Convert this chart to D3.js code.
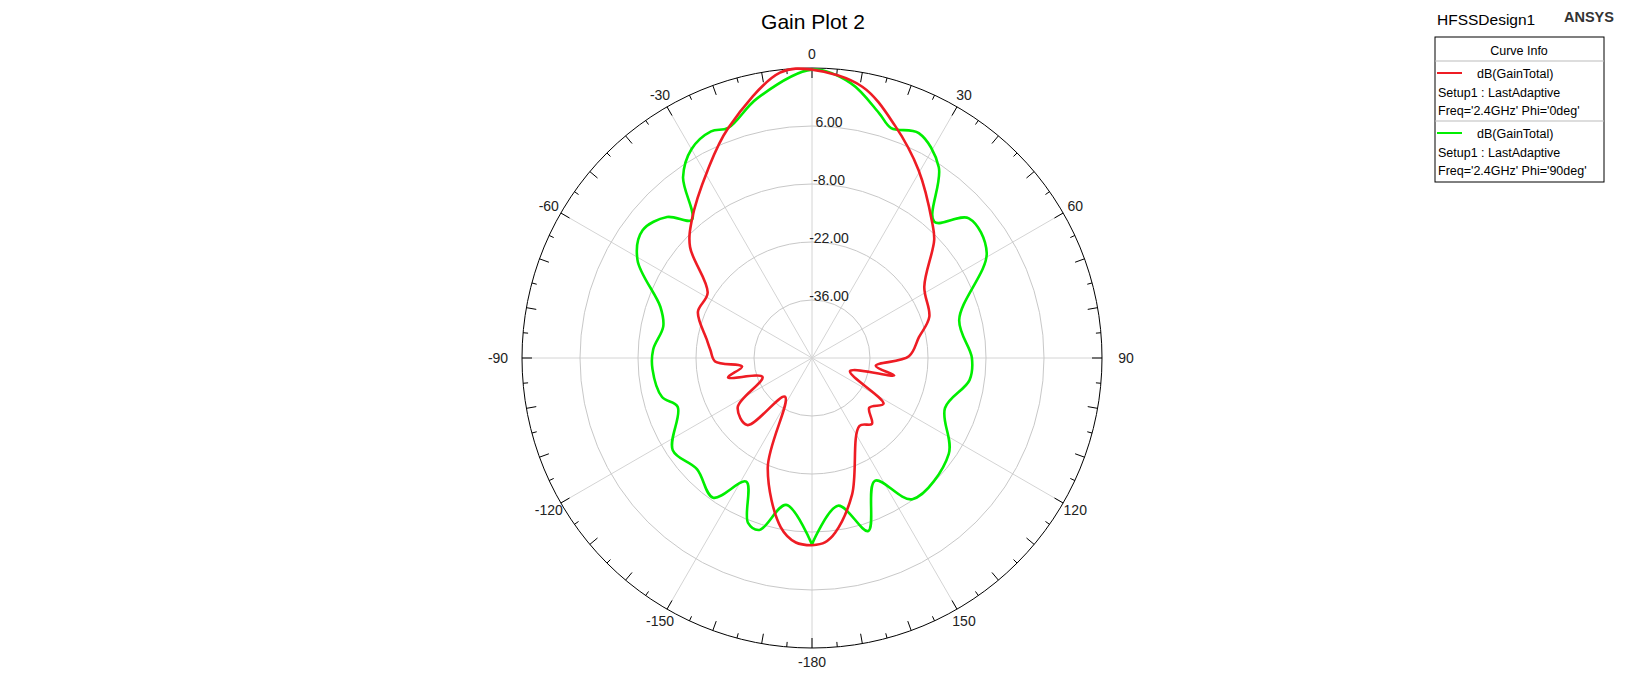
<!DOCTYPE html><html><head><meta charset="utf-8"><script src="https://cdn.jsdelivr.net/npm/d3@7"></script>
<style>body{margin:0;background:#fff}text{font-family:Arial,"Liberation Sans",sans-serif}</style></head><body><svg id="c" width="1628" height="689"></svg>
<script>
const ringValues=[-36,-22,-8,6,20];
const ringLabels=["-36.00","-22.00","-8.00","6.00"];
const angleLabels=[0,30,60,90,120,150,-180,-150,-120,-90,-60,-30];
const redTheta=[-180,-175,-169.5,-158,-145,-136,-123.5,-111,-103,-97,-92,-85.5,-80,-68,-58,-47.7,-41,-29,-20,-6.4,0,10.5,19.6,29.6,41.6,46,57.6,70.7,79,89,97,102,109,122.6,131,137.7,145,163.6,172.4,176,180];
const redDb=[-4.8,-5.3,-8.5,-21.5,-38.6,-27.5,-28.5,-37.2,-29.2,-33,-26.6,-25.4,-24.2,-20.3,-20.3,-10.2,-5.8,1.9,9.1,19.3,19.6,16.6,9.6,2.1,-6.3,-9,-17.9,-20,-23.7,-26.6,-34.5,-29.7,-40.3,-29.5,-31.7,-28.5,-30,-15.7,-7.5,-5.4,-4.8];
const greenTheta=[-180,-170,-163,-158.8,-152,-144.7,-134,-123.5,-110,-104.6,-94,-87,-78,-71.4,-60.7,-53,-45.8,-41,-35.5,-30,-24,-20,-12,0,8,15.3,19,25.4,33.6,41.9,48.3,59,75.5,90,98,110.6,125,144.6,152.9,162,170,180];
const greenDb=[-5,-14,-6.6,-7.3,-16.2,-8.7,-11.4,-9.7,-15.5,-12.6,-11.4,-11.6,-13.3,-11.4,-1.7,1.2,-1.2,-5.8,3.6,8.2,9.9,9.1,14,19.6,17,11.3,8.7,10.1,5.3,-5.8,0.7,-0.8,-13.3,-11.4,-11.6,-15.7,-9.7,-8.2,-16.7,-6.1,-13.8,-5];
const cx=812,cy=358,R=290;
const svg=d3.select("#c");
const r=d3.scaleLinear().domain([-50,20]).range([0,R]);
const g=svg.append("g").attr("transform",`translate(${cx},${cy})`);
const rad=d=>d*Math.PI/180;
d3.range(0,360,30).forEach(a=>{g.append("line").attr("x1",0).attr("y1",0).attr("x2",R*Math.sin(rad(a))).attr("y2",-R*Math.cos(rad(a))).attr("stroke","#d4d4d4").attr("stroke-width",1);});
ringValues.slice(0,4).forEach(v=>g.append("circle").attr("r",r(v)).attr("fill","none").attr("stroke","#c8c8c8"));
g.append("circle").attr("r",R).attr("fill","none").attr("stroke","#000").attr("stroke-width",1);
d3.range(0,360,5).forEach(a=>{const L=a%10===0?10:5;g.append("line").attr("x1",(R-L)*Math.sin(rad(a))).attr("y1",-(R-L)*Math.cos(rad(a))).attr("x2",R*Math.sin(rad(a))).attr("y2",-R*Math.cos(rad(a))).attr("stroke","#000");});
ringLabels.forEach((t,i)=>g.append("text").attr("x",17).attr("y",-r(ringValues[i])-9).attr("dy","0.71em").attr("text-anchor","middle").attr("font-size",14).attr("fill","#222").text(t));
angleLabels.forEach(a=>{const rr=R+(Math.abs(Math.sin(rad(a)))>0.9?24:14);const x=rr*Math.sin(rad(a)),y=-rr*Math.cos(rad(a));g.append("text").attr("x",x).attr("y",y).attr("dy","0.35em").attr("text-anchor","middle").attr("font-size",14).attr("fill","#222").text(a);});
const line=d3.lineRadial().angle(d=>rad(d[0])).radius(d=>r(d[1])).curve(d3.curveCatmullRom.alpha(0.5));
g.append("path").datum(greenTheta.map((t,i)=>[t,greenDb[i]])).attr("d",line).attr("fill","none").attr("stroke","#00ee00").attr("stroke-width",2.6);
g.append("path").datum(redTheta.map((t,i)=>[t,redDb[i]])).attr("d",line).attr("fill","none").attr("stroke","#ee1c24").attr("stroke-width",2.6);
svg.append("text").attr("x",813).attr("y",29).attr("text-anchor","middle").attr("font-size",21).text("Gain Plot 2");
svg.append("text").attr("x",1437).attr("y",25).attr("font-size",15.5).text("HFSSDesign1");
svg.append("text").attr("x",1564).attr("y",22).attr("font-size",14.5).attr("font-weight","bold").attr("fill","#333").text("ANSYS");
const lg=svg.append("g").attr("transform","translate(1435,37)");
lg.append("rect").attr("width",169).attr("height",145).attr("fill","#fff").attr("stroke","#000");
lg.append("text").attr("x",84).attr("y",18).attr("text-anchor","middle").attr("font-size",12.5).text("Curve Info");
[0,1].forEach(k=>{const y0=24+k*60;lg.append("line").attr("x1",0).attr("x2",169).attr("y1",y0).attr("y2",y0).attr("stroke","#bbb");
lg.append("line").attr("x1",2).attr("x2",27).attr("y1",y0+12).attr("y2",y0+12).attr("stroke",k?"#00ee00":"#ee1c24").attr("stroke-width",2);
lg.append("text").attr("x",42).attr("y",y0+17).attr("font-size",12.5).text("dB(GainTotal)");
lg.append("text").attr("x",3).attr("y",y0+36).attr("font-size",12.5).text("Setup1 : LastAdaptive");
lg.append("text").attr("x",3).attr("y",y0+54).attr("font-size",12.5).text(k?"Freq='2.4GHz' Phi='90deg'":"Freq='2.4GHz' Phi='0deg'");});
</script></body></html>
